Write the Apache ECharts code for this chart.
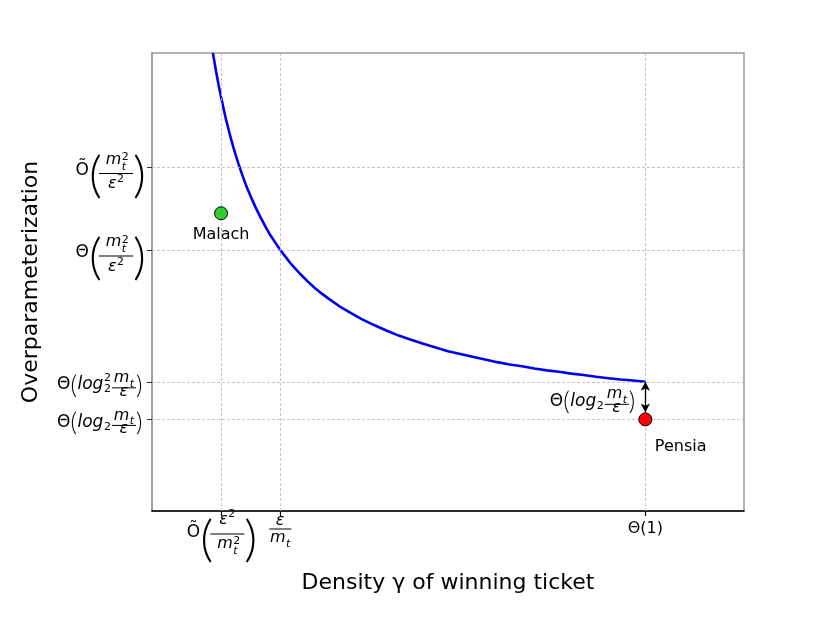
<!DOCTYPE html>
<html><head><meta charset="utf-8">
<script src="https://cdn.jsdelivr.net/npm/echarts@6/dist/echarts.min.js"></script>
<style>html,body{margin:0;padding:0;background:#fff}#c{width:828px;height:620px}</style>
</head><body><div id="c"></div>
<script>
// ---- data ----
const xTicks = [0.14, 0.26, 1.0];
const yTicks = [7.5, 5.7, 2.82, 2.0];
const curveX = [0.1235, 0.125, 0.13, 0.135, 0.14, 0.145, 0.15, 0.155, 0.16, 0.165, 0.17, 0.175, 0.18, 0.185, 0.19, 0.195, 0.20, 0.21, 0.22, 0.23, 0.24, 0.25, 0.26, 0.27, 0.28, 0.29, 0.30, 0.315, 0.33, 0.345, 0.36, 0.38, 0.40, 0.425, 0.45, 0.475, 0.50, 0.525, 0.55, 0.575, 0.60, 0.625, 0.65, 0.675, 0.70, 0.725, 0.75, 0.775, 0.80, 0.825, 0.85, 0.875, 0.90, 0.925, 0.95, 0.975, 1.00];
const curveY = [10.00, 9.90, 9.59, 9.30, 9.04, 8.79, 8.55, 8.34, 8.13, 7.94, 7.76, 7.59, 7.43, 7.28, 7.13, 7.00, 6.87, 6.63, 6.41, 6.21, 6.02, 5.86, 5.70, 5.56, 5.42, 5.30, 5.18, 5.02, 4.87, 4.74, 4.62, 4.47, 4.34, 4.19, 4.06, 3.94, 3.83, 3.74, 3.65, 3.57, 3.49, 3.43, 3.37, 3.31, 3.25, 3.20, 3.16, 3.11, 3.07, 3.04, 3.00, 2.97, 2.93, 2.90, 2.87, 2.85, 2.82];
const pointNames = ['Malach', 'Pensia'];
const pointX = [0.14, 1.0];
const pointY = [6.5, 2.0];
const gapX = 1.0;
const gapTop = 2.82;
const gapBottom = 2.15;
const gapLabelY = 2.46;

// ---- math-like rich labels (real text, positioned with rich tokens) ----
const FONT = 'DejaVu Sans';
const PFONT = 'Lato';
const W_M = 16, W_E = 9, W_SUP = 7, W_SUB = 4.3;
const W_T = 13.5, W_LP = 10, W_RP = 11, W_LPS = 7, W_RPS = 8, W_LG = 26.5, W_S2 = 8;
const ST = {fontSize: 17, fontFamily: FONT, color: '#000'};
const SI = {fontSize: 16, fontFamily: FONT, fontStyle: 'italic', color: '#000'};
const SS = {fontSize: 11, fontFamily: FONT, color: '#000'};
const SSI = {fontSize: 11, fontFamily: FONT, fontStyle: 'italic', color: '#000'};
const SL = {fontSize: 17, fontFamily: FONT, fontStyle: 'italic', color: '#000'};
const SP = fs => ({fontSize: fs, fontFamily: PFONT, fontWeight: 300, color: '#000'});
const rich = {t1: {fontSize: 16, fontFamily: FONT, lineHeight: 32, color: '#000'}};
let sc = 0;
// text token whose centre sits at lineTop + h/2 (all tokens left-aligned inside their box)
function S(text, base, h, w) {
  const k = 's' + (sc++);
  rich[k] = Object.assign({}, base, {height: Math.max(h, 0.01), verticalAlign: 'top', lineHeight: 0.01, width: w, align: 'left'});
  return '{' + k + '|' + text + '}';
}
function P(w, L) {
  const k = 's' + (sc++);
  rich[k] = {width: Math.max(w, 0.01), height: 0.01, lineHeight: L || 0.01, align: 'left'};
  return '{' + k + '|}';
}
function BAR(w, L) {
  const k = 's' + (sc++);
  rich[k] = {width: w, height: 1, lineHeight: L, backgroundColor: '#000', align: 'left'};
  return '{' + k + '|}';
}
const H = (c, top) => 2 * (c - top);

// y labels: block (30 px) centred on the tick; lines 20 / 2 / 8 px -> line tops at -15, +5, +7
function yFrac(theta) {
  const t1 = -15, t3 = 7, W = 34;
  const sN = (W - (W_M + 0.01 + W_SUB)) / 2, sD = (W - (W_E + W_SUP)) / 2;
  return [
    P(0.01, 20) + S(theta, ST, H(3, t1), W_T) + S('(', SP(50), H(8, t1), W_LP) + P(sN) +
      S('m', SI, H(-8, t1), W_M) + S('2', SS, H(-10, t1), 0.01) + S('t', SSI, H(-0.5, t1), W_SUB) +
      P(sN) + S(')', SP(50), H(8, t1), W_RP),
    P(0.01, 2) + P(W_T + W_LP) + BAR(W, 2) + P(W_RP),
    P(0.01, 8) + P(W_T + W_LP + sD) + S('ε', SI, H(16.5, t3), W_E) + S('2', SS, H(12, t3), W_SUP) + P(sD + W_RP)
  ].join('\n');
}
function yLog(squared) {
  const t1 = -15, t3 = 7, W = 24;
  const pre = W_T + W_LPS + W_LG + W_S2;
  const sN = (W - (W_M + W_SUB)) / 2, sD = (W - W_E) / 2;
  return [
    P(0.01, 20) + S('Θ', ST, H(3, t1), W_T) + S('(', SP(25), H(4, t1), W_LPS) + S('log', SL, H(3, t1), W_LG) +
      (squared ? S('2', SS, H(-3.5, t1), 0.01) : '') + S('2', SS, H(7.5, t1), W_S2) + P(sN) +
      S('m', SI, H(-4, t1), W_M) + S('t', SSI, H(2, t1), W_SUB) + P(sN) + S(')', SP(25), H(4, t1), W_RPS),
    P(0.01, 2) + P(pre) + BAR(W, 2) + P(W_RPS),
    P(0.01, 8) + P(pre + sD) + S('ε', SI, H(9.5, t3), W_E) + P(sD + W_RPS)
  ].join('\n');
}
// x labels: block top at axis + 2 (y = 513)
function xFracA() {
  const y0 = 513, t1 = y0, t3 = y0 + 22, W = 34;
  const sN = (W - (W_E + W_SUP)) / 2, sD = (W - (W_M + 0.01 + W_SUB)) / 2;
  return [
    P(0.01, 20) + S('Õ', ST, H(533, t1), W_T) + S('(', SP(50), H(540, t1), W_LP) + P(sN) +
      S('ε', SI, H(519.5, t1), W_E) + S('2', SS, H(514.5, t1), W_SUP) + P(sN) + S(')', SP(50), H(540, t1), W_RP),
    P(0.01, 2) + P(W_T + W_LP) + BAR(W, 2) + P(W_RP),
    P(0.01, 8) + P(W_T + W_LP + sD) + S('m', SI, H(544, t3), W_M) + S('2', SS, H(541, t3), 0.01) +
      S('t', SSI, H(551, t3), W_SUB) + P(sD + W_RP)
  ].join('\n');
}
function xFracB() {
  const y0 = 513, t1 = y0, t3 = y0 + 17, W = 22;
  const sN = (W - W_E) / 2, sD = (W - (W_M + W_SUB)) / 2;
  return [
    P(0.01, 15) + P(sN) + S('ε', SI, H(521, t1), W_E) + P(sN),
    P(0.01, 2) + BAR(W, 2),
    P(0.01, 8) + P(sD) + S('m', SI, H(538, t3), W_M) + S('t', SSI, H(544.5, t3), W_SUB) + P(sD)
  ].join('\n');
}
const yLabels = [yFrac('Õ'), yFrac('Θ'), yLog(true), yLog(false)];
const xLabels = [xFracA(), xFracB(), '{t1|Θ(1)}'];
const gapLabel = yLog(false);
function pick(list, ticks, v) {
  let best = 0;
  ticks.forEach((t, i) => { if (Math.abs(t - v) < Math.abs(ticks[best] - v)) best = i; });
  return list[best];
}
// the two close log labels go on two overlaid axes so neither hides the other
const yLabelValsA = yTicks.filter((v, i) => i !== 2);
const yLabelValsB = [yTicks[2]];

const chart = echarts.init(document.getElementById('c'));
const gridLines = xTicks.map(v => ({xAxis: v})).concat(yTicks.map(v => ({yAxis: v})));
const yLabelBase = {show: true, margin: 8, hideOverlap: false, showMinLabel: true, showMaxLabel: true,
  rich: rich, fontFamily: FONT, fontSize: 16, color: '#000', formatter: v => pick(yLabels, yTicks, v)};
chart.setOption({
  animation: false,
  backgroundColor: '#fff',
  textStyle: {fontFamily: FONT},
  grid: {left: 152, top: 53, width: 592, height: 458, show: true, borderColor: '#999', borderWidth: 1.5, backgroundColor: 'transparent'},
  xAxis: {
    type: 'value', min: 0, max: 1.2,
    name: 'Density γ of winning ticket', nameLocation: 'middle', nameGap: 58,
    nameTextStyle: {fontSize: 22, fontFamily: FONT, color: '#000'},
    axisLine: {show: true, lineStyle: {color: '#000', width: 1.5}},
    axisTick: {show: true, customValues: xTicks, length: 5, lineStyle: {color: '#000', width: 1.2}},
    axisLabel: {show: true, customValues: xTicks, margin: 2, hideOverlap: false, showMinLabel: true, showMaxLabel: true,
      rich: rich, fontFamily: FONT, fontSize: 16, color: '#000', formatter: v => pick(xLabels, xTicks, v)},
    splitLine: {show: false}
  },
  yAxis: [
    {
      type: 'value', min: 0, max: 10, position: 'left',
      name: 'Overparameterization', nameLocation: 'middle', nameGap: 110,
      nameTextStyle: {fontSize: 22, fontFamily: FONT, color: '#000'},
      axisLine: {show: true, lineStyle: {color: '#999', width: 1.5}},
      axisTick: {show: true, customValues: yTicks, length: 5, lineStyle: {color: '#333', width: 1}},
      axisLabel: Object.assign({customValues: yLabelValsA}, yLabelBase),
      splitLine: {show: false}
    },
    {
      type: 'value', min: 0, max: 10, position: 'left', offset: 0,
      axisLine: {show: false}, axisTick: {show: false}, splitLine: {show: false},
      axisLabel: Object.assign({customValues: yLabelValsB}, yLabelBase)
    }
  ],
  series: [
    {
      type: 'line', data: [], z: 1, silent: true,
      markLine: {silent: true, symbol: 'none', label: {show: false},
        lineStyle: {color: '#b8b8b8', width: 0.8, type: [3, 2]}, data: gridLines}
    },
    {
      type: 'line', z: 3, showSymbol: false, smooth: false,
      data: curveX.map((x, i) => [x, curveY[i]]),
      lineStyle: {color: '#0000ee', width: 2.6}
    },
    {
      type: 'line', data: [], z: 4,
      markLine: {silent: true, symbol: ['arrow', 'arrow'], symbolSize: [7, 9], label: {show: false},
        lineStyle: {color: '#000', width: 1.3, type: 'solid'},
        data: [[{coord: [gapX, gapTop]}, {coord: [gapX, gapBottom]}]]}
    },
    {
      type: 'scatter', z: 5, symbolSize: 1, itemStyle: {color: '#000', opacity: 1},
      data: [[gapX, gapLabelY]],
      label: {show: true, position: 'left', distance: 8, rich: rich, fontFamily: FONT, color: '#000', formatter: () => gapLabel}
    },
    {
      type: 'scatter', z: 6, symbolSize: 13,
      data: [{value: [pointX[0], pointY[0]], name: pointNames[0]}],
      itemStyle: {color: '#33cc33', borderColor: '#000', borderWidth: 1, opacity: 1},
      label: {show: true, position: 'bottom', distance: 7, fontSize: 16, fontFamily: FONT, color: '#000', formatter: '{b}'}
    },
    {
      type: 'scatter', z: 6, symbolSize: 13,
      data: [{value: [pointX[1], pointY[1]], name: pointNames[1]}],
      itemStyle: {color: '#ff0000', borderColor: '#000', borderWidth: 1, opacity: 1},
      label: {show: true, position: [16.5, 34.5], align: 'left', verticalAlign: 'middle', fontSize: 16, fontFamily: FONT, color: '#000', formatter: '{b}'}
    }
  ]
});
</script></body></html>
